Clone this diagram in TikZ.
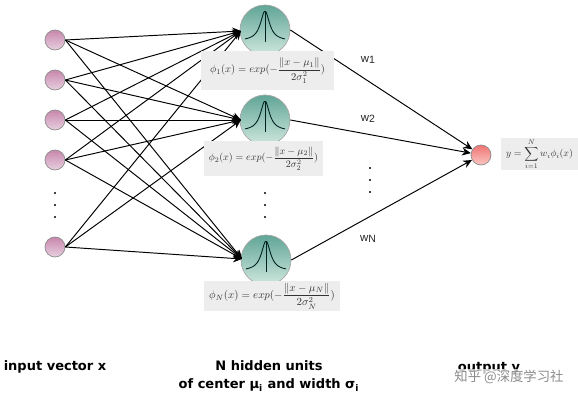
\documentclass[tikz,border=0pt]{standalone}
\usepackage{amsmath}
\usepackage{graphicx}
\usepackage{fontspec}
\setsansfont{DejaVu Sans}
\newfontfamily\wfont{Liberation Sans}
\newfontfamily\cjk{Noto Sans CJK SC}
\usetikzlibrary{arrows.meta}
\definecolor{inputtop}{RGB}{200,135,172}
\definecolor{inputlow}{RGB}{232,208,224}
\definecolor{hiddentop}{RGB}{96,165,150}
\definecolor{hiddenlow}{RGB}{208,232,222}
\definecolor{outputtop}{RGB}{240,115,115}
\definecolor{outputlow}{RGB}{250,200,195}
\newlength{\unit}
\setlength{\unit}{0.02cm}
\newcommand{\wsub}[1]{w\raisebox{-0.7pt}{\fontsize{6}{6}\selectfont #1}}
\newcommand{\fml}[2]{\scalebox{#1}{$\displaystyle #2$}}
\tikzset{
  inputunit/.style={circle,draw=black!45,minimum size=20\unit,inner sep=0pt,
    top color=inputtop,bottom color=inputlow},
  hiddenunit/.style={circle,draw=black!35,minimum size=50\unit,inner sep=0pt,
    top color=hiddentop,bottom color=hiddenlow},
  outputunit/.style={circle,draw=black!45,minimum size=20\unit,inner sep=0pt,
    top color=outputtop,bottom color=outputlow},
  formula/.style={fill=black!7,inner sep=0pt,text=black!80},
  caption/.style={font=\sffamily\bfseries\fontsize{7.4}{10}\selectfont,align=center},
  wlabel/.style={font=\wfont\fontsize{6.5}{7}\selectfont,text=black!85},
  link/.style={-{Stealth[length=5pt,width=4.5pt]},line width=0.55pt},
  dotmark/.style={fill=black,circle,inner sep=0pt,minimum size=1.4pt}
}
\begin{document}
\begin{tikzpicture}[x=0.02cm,y=-0.02cm]
\useasboundingbox (0,0) rectangle (578,402);
% input units
\foreach \i/\ypos in {1/40,2/80,3/120,4/160,5/247}
  \node[inputunit] (in\i) at (55,\ypos) {};
% hidden units
\node[hiddenunit] (h1) at (265,30) {};
\node[hiddenunit] (h2) at (265,120) {};
\node[hiddenunit] (h3) at (266,260) {};
\node[outputunit] (out) at (481,155) {};
\coordinate (tip1) at (241,31);
\coordinate (tip2) at (241,120);
\coordinate (tip3) at (242,259);
% connections
\foreach \i in {1,...,5}
  \foreach \j in {1,2,3}
    \draw[link] (in\i.east) -- (tip\j);
\foreach \j in {1,2,3}
  \draw[link] (h\j.east) -- (out);
% bell curves
\foreach \j in {1,2,3} {
  \begin{scope}[shift={(h\j.center)}]
    \draw[line width=0.5pt,black!75!teal] plot[smooth,samples=30,domain=-20:20] ({\x},{11-30/(1+\x*\x/30)});
    \draw[line width=0.3pt,black!75!teal] (0,-19) -- (0,12);
  \end{scope}
}
% formulas
\node[formula,minimum width=133\unit,minimum height=39\unit] (f1) at (267.5,70.5)
  {\fml{0.6}{\phi_1(x)=exp(-\frac{\|x-\mu_1\|}{2\sigma_1^2})}};
\node[formula,minimum width=119\unit,minimum height=35\unit] (f2) at (263.5,158.5)
  {\fml{0.57}{\phi_2(x)=exp(-\frac{\|x-\mu_2\|}{2\sigma_2^2})}};
\node[formula,minimum width=136\unit,minimum height=30\unit] (f3) at (272,296)
  {\fml{0.62}{\phi_N(x)=exp(-\frac{\|x-\mu_N\|}{2\sigma_N^2})}};
\node[formula,minimum width=77\unit,minimum height=32\unit] (f4) at (539.5,154)
  {\fml{0.56}{y=\sum_{i=1}^{N}w_i\phi_i(x)}};
% weights
\node[wlabel] (w1) at (368,60) {\wsub{1}};
\node[wlabel] (w2) at (368,119) {\wsub{2}};
\node[wlabel] (wn) at (368,239) {\wsub{N}};
% dots
\foreach \ypos in {193,205,217} {
  \node[dotmark] at (55,\ypos) {};
  \node[dotmark] at (265,\ypos) {};
}
\foreach \ypos in {168,180,192}
  \node[dotmark] at (370,\ypos) {};
% captions
\node[caption] (c1) at (55,367) {input vector x};
\node[caption] (c2) at (269,376) {N hidden units\\of center μ\textsubscript{i} and width σ\textsubscript{i}};
\node[caption] (c3) at (489,368) {output y};
\node[font=\cjk\fontsize{7.6}{9}\selectfont,text=black!45,fill=white,fill opacity=0.75,text opacity=1,inner sep=0pt,minimum height=16\unit] (mark) at (509,377) {知乎 @深度学习社};
\end{tikzpicture}
\end{document}
